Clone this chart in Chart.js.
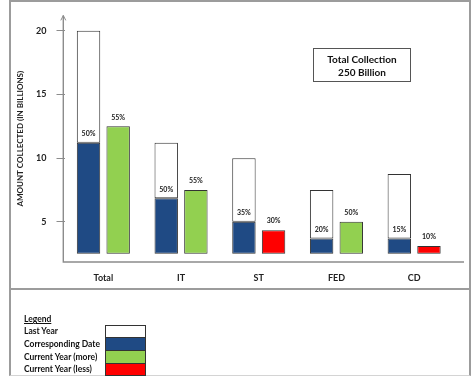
<!DOCTYPE html>
<html lang="en">
  <head>
    <meta charset="UTF-8" />
    <title>Total Collection</title>
    <style>
      body {
        margin: 0;
        background: #fff;
        font-family: Lato, "Liberation Sans", sans-serif;
        color: #111;
      }
      .page {
        position: relative;
        width: 474px;
        height: 377px;
        overflow: hidden;
      }
      .chart-box {
        position: absolute;
        left: 0;
        top: 0;
        width: 474px;
        height: 290px;
      }
      .frame {
        position: absolute;
        left: 9px;
        top: 0;
        width: 458px;
        height: 373px;
        border: 2px solid #9c9c9c;
        border-bottom: 1px solid #d4d4d4;
        pointer-events: none;
      }
      .divider {
        position: absolute;
        left: 9px;
        top: 288px;
        width: 462px;
        height: 2px;
        background: #9c9c9c;
      }
      .note {
        position: absolute;
        left: 313px;
        top: 48px;
        width: 98px;
        height: 34px;
        border: 1px solid #555;
        font-weight: bold;
        font-size: 10px;
        line-height: 13px;
        text-align: center;
        padding-top: 4px;
        box-sizing: border-box;
      }
      .legend-row {
        position: absolute;
        left: 24px;
        font-weight: bold;
        font-size: 8.5px;
        line-height: 12px;
        white-space: nowrap;
      }
      .swatch {
        position: absolute;
        left: 105px;
        width: 41px;
        height: 12px;
        border: 1px solid #333;
        box-sizing: border-box;
      }
    </style>
    <script src="https://cdn.jsdelivr.net/npm/chart.js@4.4.1/dist/chart.umd.min.js"></script>
  </head>
  <body>
    <div class="page">
      <div class="chart-box"><canvas id="collectionChart"></canvas></div>
      <div class="note">Total Collection<br />250 Billion</div>
      <div class="divider"></div>
      <div class="frame"></div>
      <div id="legend"></div>
    </div>

    <script>
      // values (billions)
      const categories = ["Total", "IT", "ST", "FED", "CD"];
      const lastYear = [20, 11.2, 10, 7.5, 8.75];
      const corrDate = [11.2, 6.85, 5, 3.7, 3.7];
      const currentYear = [12.5, 7.5, 4.35, 5, 3.1];
      const corrPct = ["50%", "50%", "35%", "20%", "15%"];
      const currentPct = ["55%", "55%", "30%", "50%", "10%"];
      const yTicks = [5, 10, 15, 20];
      const barBase = 2.5;

      const BLUE = "#1f4a84";
      const GREEN = "#92d050";
      const RED = "#ff0000";
      const FONT = "Lato, 'Liberation Sans', sans-serif";

      const legendItems = [
        { label: "Last Year", color: "#ffffff" },
        { label: "Corresponding Date", color: BLUE },
        { label: "Current Year (more)", color: GREEN },
        { label: "Current Year (less)", color: RED },
      ];

      // legend panel below the chart
      const legend = document.getElementById("legend");
      let html = '<div class="legend-row" style="top:313px;text-decoration:underline">Legend</div>';
      legendItems.forEach((item, i) => {
        const top = 325 + i * 12.8;
        html += `<div class="legend-row" style="top:${top}px">${item.label}</div>`;
        html += `<div class="swatch" style="top:${top - 0.5}px;height:13.5px;background:${item.color}"></div>`;
      });
      legend.innerHTML = html;

      // green when above the corresponding date, red when below
      const currentColors = currentYear.map((v, i) => (v >= corrDate[i] ? GREEN : RED));

      const axisLines = {
        id: "axisLines",
        afterDraw(chart) {
          const { ctx, chartArea } = chart;
          const x0 = chartArea.left - 1.2;
          ctx.save();
          ctx.strokeStyle = "#8c8c8c";
          ctx.lineWidth = 1.4;
          ctx.beginPath();
          ctx.moveTo(x0, chartArea.top);
          ctx.lineTo(x0, chartArea.bottom);
          ctx.lineTo(chartArea.right + 11, chartArea.bottom);
          ctx.stroke();
          ctx.lineWidth = 1;
          ctx.beginPath();
          ctx.moveTo(x0 - 2.5, chartArea.top + 5);
          ctx.lineTo(x0, chartArea.top);
          ctx.lineTo(x0 + 2.5, chartArea.top + 5);
          ctx.stroke();
          ctx.restore();
        },
      };

      const pctLabels = {
        id: "pctLabels",
        afterDatasetsDraw(chart) {
          const { ctx } = chart;
          ctx.save();
          ctx.font = "bold 7px " + FONT;
          ctx.fillStyle = "#222";
          ctx.textAlign = "center";
          ctx.textBaseline = "middle";
          [[0, corrPct], [2, currentPct]].forEach(([di, texts]) => {
            chart.getDatasetMeta(di).data.forEach((bar, i) => {
              ctx.fillText(texts[i], bar.x, bar.y - 9);
            });
          });
          ctx.restore();
        },
      };

      const ctx = document.getElementById("collectionChart").getContext("2d");
      new Chart(ctx, {
        type: "bar",
        data: {
          labels: categories,
          datasets: [
            {
              label: "Corresponding Date",
              data: corrDate,
              base: barBase,
              stack: "prev",
              backgroundColor: BLUE,
            },
            {
              label: "Last Year",
              data: lastYear.map((v, i) => v - corrDate[i]),
              stack: "prev",
              backgroundColor: "#ffffff",
            },
            {
              label: "Current Year",
              data: currentYear,
              base: barBase,
              stack: "cur",
              backgroundColor: currentColors,
            },
          ],
        },
        options: {
          responsive: true,
          maintainAspectRatio: false,
          animation: false,
          layout: { padding: { top: 9.3, right: 21, bottom: 0, left: 0 } },
          datasets: {
            bar: {
              borderColor: "#333",
              borderWidth: 1,
              borderSkipped: false,
              categoryPercentage: 0.763,
              barPercentage: 0.79,
            },
          },
          plugins: {
            legend: { display: false },
            tooltip: { enabled: false },
          },
          scales: {
            x: {
              afterFit: (s) => {
                s.height = 28;
              },
              border: { display: false },
              grid: { display: false },
              ticks: {
                padding: 3,
                color: "#222",
                font: { family: FONT, size: 9, weight: "bold" },
              },
            },
            y: {
              stacked: true,
              min: 1.85,
              max: 21.2,
              afterFit: (s) => {
                s.width = 64.5;
              },
              afterBuildTicks: (s) => {
                s.ticks = yTicks.map((v) => ({ value: v }));
              },
              border: { display: false },
              grid: {
                drawOnChartArea: false,
                drawTicks: true,
                tickLength: 8,
                color: "#8c8c8c",
              },
              ticks: {
                padding: 10,
                color: "#222",
                font: { family: FONT, size: 9, weight: "bold" },
              },
              title: {
                display: true,
                text: "AMOUNT COLLECTED (IN BILLIONS)",
                color: "#222",
                padding: { top: 16, bottom: 0 },
                font: { family: FONT, size: 8, weight: "bold" },
              },
            },
          },
        },
        plugins: [axisLines, pctLabels],
      });
    </script>
  </body>
</html>
